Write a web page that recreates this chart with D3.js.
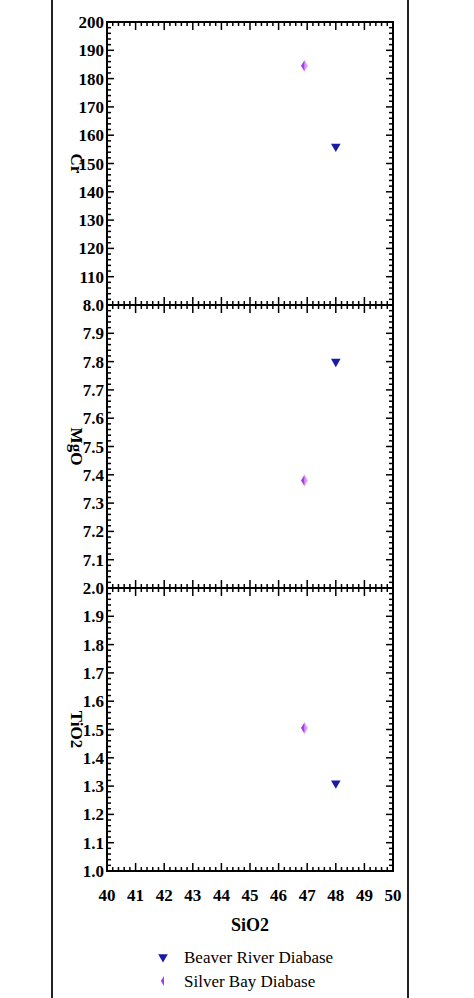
<!DOCTYPE html>
<html><head><meta charset="utf-8">
<script src="https://cdn.jsdelivr.net/npm/d3@7"></script>
<style>body{margin:0;background:#fff}text{font-family:"Liberation Serif",serif}</style>
</head><body>
<svg id="chart" width="474" height="998"></svg>
<script>
// ------------------------------------
// Data
// ------------------------------------
const seriesNames = ["Beaver River Diabase", "Silver Bay Diabase"];
const sio2 = [48.0, 46.9];
const cr = [156, 184.5];
const mgo = [7.80, 7.38];
const tio2 = [1.31, 1.505];

const panels = [
  { label: "Cr", values: cr, domain: [100, 200], ticks: [110,120,130,140,150,160,170,180,190,200], fmt: d3.format("d"), minor: 2 },
  { label: "MgO", values: mgo, domain: [7.0, 8.0], ticks: [7.1,7.2,7.3,7.4,7.5,7.6,7.7,7.8,7.9,8.0], fmt: d3.format(".1f"), minor: 0.02 },
  { label: "TiO2", values: tio2, domain: [1.0, 2.0], ticks: [1.0,1.1,1.2,1.3,1.4,1.5,1.6,1.7,1.8,1.9,2.0], fmt: d3.format(".1f"), minor: 0.02 }
];
const xTicks = d3.range(40, 51);

const svg = d3.select("#chart");
const plotLeft = 107, plotRight = 393, plotTop = 22, ph = 283;

// outer frame lines
svg.append("line").attr("x1", 52).attr("x2", 52).attr("y1", 0).attr("y2", 998).attr("stroke", "#222").attr("stroke-width", 2);
svg.append("line").attr("x1", 408).attr("x2", 408).attr("y1", 0).attr("y2", 998).attr("stroke", "#222").attr("stroke-width", 2);

const x = d3.scaleLinear().domain([40, 50]).range([plotLeft, plotRight]);
const xMinor = d3.range(40, 50.001, 0.2);

panels.forEach((p, i) => {
  const y0 = plotTop + i * ph;
  const y = d3.scaleLinear().domain(p.domain).range([y0 + ph, y0]);
  const g = svg.append("g");

  g.append("rect").attr("x", plotLeft).attr("y", y0).attr("width", plotRight - plotLeft).attr("height", ph)
    .attr("fill", "none").attr("stroke", "#000").attr("stroke-width", 2);

  // y ticks, inward on both sides
  const step = p.minor * 5;
  d3.range(p.domain[0], p.domain[1] + 1e-9, p.minor).forEach(v => {
    const r = (v - p.domain[0]) / step;
    const major = Math.abs(r - Math.round(r)) < 1e-6;
    const len = major ? 7 : 4;
    g.append("line").attr("x1", plotLeft).attr("x2", plotLeft + len).attr("y1", y(v)).attr("y2", y(v)).attr("stroke", "#000").attr("stroke-width", 1.5);
    g.append("line").attr("x1", plotRight).attr("x2", plotRight - len).attr("y1", y(v)).attr("y2", y(v)).attr("stroke", "#000").attr("stroke-width", 1.5);
  });
  // x ticks, inward top and bottom
  xMinor.forEach(v => {
    const major = Math.abs(v - Math.round(v)) < 1e-6;
    const len = major ? 8 : 4;
    g.append("line").attr("x1", x(v)).attr("x2", x(v)).attr("y1", y0).attr("y2", y0 + len).attr("stroke", "#000").attr("stroke-width", 1.5);
    g.append("line").attr("x1", x(v)).attr("x2", x(v)).attr("y1", y0 + ph).attr("y2", y0 + ph - len).attr("stroke", "#000").attr("stroke-width", 1.5);
  });

  g.selectAll(".yl").data(p.ticks).join("text")
    .attr("x", plotLeft - 3).attr("y", d => y(d) + 6)
    .attr("text-anchor", "end").attr("font-size", 17).attr("font-weight", "bold")
    .text(p.fmt);

  g.append("text").attr("transform", `translate(71,${y0 + ph / 2}) rotate(90)`)
    .attr("text-anchor", "middle").attr("font-size", 17).attr("font-weight", "bold").text(p.label);

  // points
  g.append("path").attr("d", d3.symbol(d3.symbolTriangle, 40)())
    .attr("transform", `translate(${x(sio2[0])},${y(p.values[0])}) rotate(180)`).attr("fill", "#1a1aa8");
  g.append("path").attr("d", d3.symbol(d3.symbolDiamond, 40)())
    .attr("transform", `translate(${x(sio2[1])},${y(p.values[1])})`).attr("fill", "#dd99ff");
  g.append("path").attr("d", "M0,-5L-3.2,0L0,5Z")
    .attr("transform", `translate(${x(sio2[1])},${y(p.values[1])})`).attr("fill", "#a040e0");
});

const plotBottom = plotTop + 3 * ph;
svg.selectAll(".xl").data(xTicks).join("text")
  .attr("x", d => x(d)).attr("y", plotBottom + 30)
  .attr("text-anchor", "middle").attr("font-size", 17).attr("font-weight", "bold").text(d => d);
svg.append("text").attr("x", 250).attr("y", 931).attr("text-anchor", "middle")
  .attr("font-size", 18).attr("font-weight", "bold").text("SiO2");

// legend
svg.append("path").attr("d", d3.symbol(d3.symbolTriangle, 40)()).attr("transform", "translate(163,957) rotate(180)").attr("fill", "#1a1aa8");
svg.append("path").attr("d", "M0,-5L-3.2,0L0,5Z").attr("transform", "translate(164,981)").attr("fill", "#a040e0");
svg.selectAll(".lg").data(seriesNames).join("text")
  .attr("x", 184).attr("y", (d, i) => 963 + i * 24).attr("font-size", 17).text(d => d);
</script>
</body></html>
